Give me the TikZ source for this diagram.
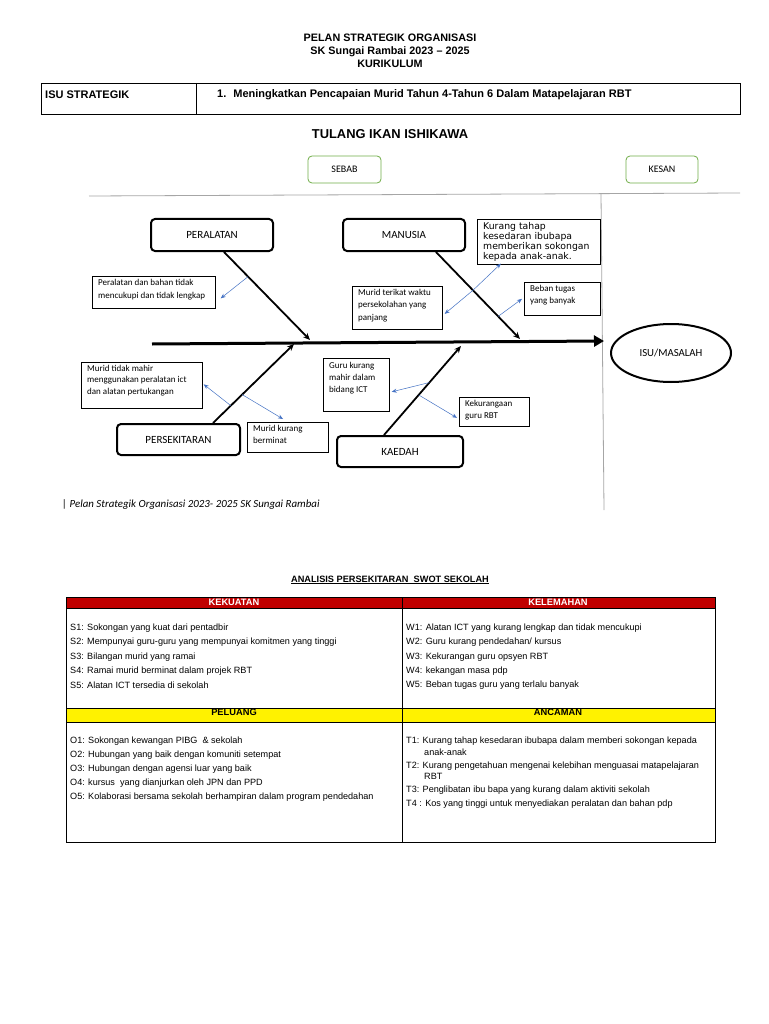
\documentclass[tikz,border=0pt]{standalone}
\usepackage{fontspec}
\setmainfont{Liberation Sans}
\newfontfamily\calfont{Carlito}
\newfontfamily\dvsfont{DejaVu Sans}
\usetikzlibrary{arrows.meta,calc,shapes.geometric}
\definecolor{swotred}{HTML}{C00000}
\definecolor{greenb}{HTML}{70AD47}
\definecolor{bluea}{HTML}{4472C4}
\definecolor{grayl}{HTML}{A6A6A6}
\begin{document}
\begin{tikzpicture}[x=1pt,y=-1pt,
  greenbox/.style={draw=greenb, rounded corners=4pt, line width=0.8pt, font=\calfont\fontsize{10}{12}\selectfont},
  bigbox/.style={draw, rounded corners=4pt, line width=2pt, font=\calfont\fontsize{11}{12}\selectfont},
  note/.style={draw, line width=0.7pt, anchor=north west, inner sep=0pt},
  notetxt/.style={anchor=north west, inner sep=0pt, align=left, font=\calfont\fontsize{9}{12.5}\selectfont},
  bone/.style={line width=1.8pt, -{Stealth[length=7pt,width=6pt]}},
  bluearr/.style={draw=bluea, line width=0.5pt, -{Stealth[length=5pt,width=4pt]}},
  swtxt/.style={anchor=west, inner sep=0pt, font=\fontsize{9.1}{11}\selectfont},
  swhead/.style={inner sep=0pt, font=\bfseries\fontsize{9.3}{10}\selectfont}
]
\useasboundingbox[fill=white] (0,0) rectangle (768,1024);

% ---------- titles ----------
\node[align=center, font=\bfseries\fontsize{10.8}{13}\selectfont] (title) at (390,51)
  {PELAN STRATEGIK ORGANISASI\\SK Sungai Rambai 2023 -- 2025\\KURIKULUM};

\node[draw, line width=0.8pt, anchor=north west, inner sep=0pt, minimum width=699pt, minimum height=31pt] (isutab) at (41,83) {};
\draw[line width=0.8pt] (196,83) -- (196,114);
\node[anchor=west, inner sep=0pt, font=\bfseries\fontsize{11}{13}\selectfont] (isulbl) at (45,95) {ISU STRATEGIK};
\node[anchor=west, inner sep=0pt, font=\bfseries\fontsize{11}{13}\selectfont] (isutxt) at (217,95)
  {1.\hspace{7pt}Meningkatkan Pencapaian Murid Tahun 4-Tahun 6 Dalam Matapelajaran RBT};

\node[font=\bfseries\fontsize{12.9}{15}\selectfont] (ikan) at (390,134) {TULANG IKAN ISHIKAWA};

% ---------- sebab / kesan ----------
\node[greenbox, minimum width=73pt, minimum height=27pt] (sebab) at (344.5,169.5) {SEBAB};
\node[greenbox, minimum width=72pt, minimum height=27pt] (kesan) at (662,169.5) {KESAN};

\draw[grayl, line width=0.8pt] (89,196) -- (740,193);
\draw[grayl, line width=0.8pt] (601,194) -- (604,510);

% ---------- main boxes ----------
\node[bigbox, minimum width=122pt, minimum height=32pt] (peralatan) at (212,235) {PERALATAN};
\node[bigbox, minimum width=122pt, minimum height=32pt] (manusia) at (404,235) {MANUSIA};
\node[bigbox, minimum width=123pt, minimum height=31pt] (persekitaran) at (178.5,439.5) {PERSEKITARAN};
\node[bigbox, minimum width=126pt, minimum height=31pt] (kaedah) at (400,451.5) {KAEDAH};

\node[ellipse, draw, line width=2pt, minimum width=120pt, minimum height=58pt,
  font=\calfont\fontsize{10.8}{12}\selectfont] (isu) at (671,353) {ISU/MASALAH};

% ---------- spine ----------
\coordinate (sp0) at (152,344);
\coordinate (sp1) at (604,341);
\draw[line width=3pt, -{Triangle[length=10pt,width=11pt]}] (sp0) -- (sp1);

% ---------- bones ----------
\coordinate (pb0) at ($(peralatan.south)+(12,0)$);
\coordinate (pb1) at (310,340);
\coordinate (mb0) at ($(manusia.south)+(32,0)$);
\coordinate (mb1) at (520,339);
\coordinate (sb0) at ($(persekitaran.north)+(34.5,0)$);
\coordinate (sb1) at (294,344);
\coordinate (kb0) at ($(kaedah.north)+(-16,0)$);
\coordinate (kb1) at (461,346);
\draw[bone] (pb0) -- (pb1);
\draw[bone] (mb0) -- (mb1);
\draw[bone] (sb0) -- (sb1);
\draw[bone] (kb0) -- (kb1);

% ---------- notes ----------
\node[note, minimum width=123pt, minimum height=32pt] (perNote) at (92,276) {};
\node[notetxt, font=\calfont\fontsize{9}{13}\selectfont] (perTxt) at ($(perNote.north west)+(6,3)$) {Peralatan dan bahan tidak\\mencukupi dan tidak lengkap};

\node[note, minimum width=123pt, minimum height=45pt] (kurNote) at (477,219) {};
\node[anchor=north west, inner sep=0pt, align=left, font=\dvsfont\fontsize{9.3}{10.2}\selectfont] (kurTxt)
  at ($(kurNote.north west)+(6,3)$) {Kurang tahap\\kesedaran ibubapa\\memberikan sokongan\\kepada anak-anak.};

\node[note, minimum width=90pt, minimum height=43pt] (terNote) at (352,286) {};
\node[notetxt] (terTxt) at ($(terNote.north west)+(6,3)$) {Murid terikat waktu\\persekolahan yang\\panjang};

\node[note, minimum width=76pt, minimum height=33pt] (bebNote) at (524,282) {};
\node[notetxt] (bebTxt) at ($(bebNote.north west)+(6,3)$) {Beban tugas\\yang banyak};

\node[note, minimum width=121pt, minimum height=46pt] (ictNote) at (81,362) {};
\node[notetxt, font=\calfont\fontsize{9}{11.5}\selectfont] (ictTxt) at ($(ictNote.north west)+(6,3)$) {Murid tidak mahir\\menggunakan peralatan ict\\dan alatan pertukangan};

\node[note, minimum width=81pt, minimum height=30pt] (minNote) at (247,422) {};
\node[notetxt, font=\calfont\fontsize{9}{12}\selectfont] (minTxt) at ($(minNote.north west)+(6,3)$) {Murid kurang\\berminat};

\node[note, minimum width=66pt, minimum height=53pt] (guruNote) at (323,358) {};
\node[notetxt, font=\calfont\fontsize{9}{12}\selectfont] (guruTxt) at ($(guruNote.north west)+(6,4)$) {Guru kurang\\mahir dalam\\bidang ICT};

\node[note, minimum width=70pt, minimum height=29pt] (kekNote) at (459,397) {};
\node[notetxt, font=\calfont\fontsize{9}{12}\selectfont] (kekTxt) at ($(kekNote.north west)+(6,3)$) {Kekurangaan\\guru RBT};

% ---------- blue arrows ----------
\coordinate (pbA) at ($(pb0)!0.28!(pb1)$);
\draw[bluearr] (pbA) -- ($(perNote.east)+(5,6)$);
\coordinate (mbA) at ($(mb0)!0.44!(mb1)$);
\draw[bluearr] (mbA) -- ($(terNote.east)+(2,6)$);
\draw[bluearr] (mbA) -- ($(kurNote.south)+(-38,-1)$);
\coordinate (mbB) at ($(mb0)!0.74!(mb1)$);
\draw[bluearr] (mbB) -- ($(bebNote.west)+(-2,0)$);
\coordinate (sbA) at ($(sb0)!0.22!(sb1)$);
\draw[bluearr] (sbA) -- ($(ictNote.east)+(1,-1)$);
\coordinate (sbB) at ($(sb0)!0.36!(sb1)$);
\draw[bluearr] (sbB) -- ($(minNote.north west)+(36,-3)$);
\coordinate (kbA) at ($(kb0)!0.59!(kb1)$);
\draw[bluearr] (kbA) -- ($(guruNote.east)+(2,7)$);
\coordinate (kbB) at ($(kb0)!0.45!(kb1)$);
\draw[bluearr] (kbB) -- ($(kekNote.west)+(-2,6)$);

% ---------- footer ----------
\node[anchor=west, inner sep=0pt, font=\calfont\itshape\fontsize{10.9}{12}\selectfont] (foot) at (62,504)
  {| Pelan Strategik Organisasi 2023- 2025 SK Sungai Rambai};

% ---------- SWOT ----------
\node[font=\bfseries\fontsize{9.2}{11}\selectfont] (swott) at (390,580) {\underline{ANALISIS PERSEKITARAN\ \ SWOT SEKOLAH}};

\fill[swotred] (66,597) rectangle (715,608);
\fill[yellow] (66,708) rectangle (715,722);
\node[draw, line width=0.8pt, anchor=north west, inner sep=0pt, minimum width=649pt, minimum height=245pt] (swot) at (66,597) {};
\draw[line width=0.8pt] (402,597) -- (402,842);
\draw[line width=0.5pt] (66,608) -- (715,608);
\draw[line width=0.5pt] (66,708) -- (715,708);
\draw[line width=0.5pt] (66,722) -- (715,722);

\node[swhead, white] (hS) at (234,602.5) {KEKUATAN};
\node[swhead, white] (hW) at (558,602.5) {KELEMAHAN};
\node[swhead] (hO) at (234,712.5) {PELUANG};
\node[swhead] (hT) at (558,712.5) {ANCAMAN};

\node[swtxt] (s1) at (70,628) {S1: Sokongan yang kuat dari pentadbir};
\node[swtxt] (s2) at (70,642.5) {S2: Mempunyai guru-guru yang mempunyai komitmen yang tinggi};
\node[swtxt] (s3) at (70,657) {S3: Bilangan murid yang ramai};
\node[swtxt] (s4) at (70,671) {S4: Ramai murid berminat dalam projek RBT};
\node[swtxt] (s5) at (70,685) {S5: Alatan ICT tersedia di sekolah};

\node[swtxt] (w1) at (406,628) {W1: Alatan ICT yang kurang lengkap dan tidak mencukupi};
\node[swtxt] (w2) at (406,642.5) {W2: Guru kurang pendedahan/ kursus};
\node[swtxt] (w3) at (406,657) {W3: Kekurangan guru opsyen RBT};
\node[swtxt] (w4) at (406,671) {W4: kekangan masa pdp};
\node[swtxt] (w5) at (406,685) {W5: Beban tugas guru yang terlalu banyak};

\node[swtxt] (o1) at (70,741) {O1: Sokongan kewangan PIBG\ \ \& sekolah};
\node[swtxt] (o2) at (70,755) {O2: Hubungan yang baik dengan komuniti setempat};
\node[swtxt] (o3) at (70,769) {O3: Hubungan dengan agensi luar yang baik};
\node[swtxt] (o4) at (70,783) {O4: kursus\ \ yang dianjurkan oleh JPN dan PPD};
\node[swtxt] (o5) at (70,797) {O5: Kolaborasi bersama sekolah berhampiran dalam program pendedahan};

\node[swtxt] (t1) at (406,741) {T1: Kurang tahap kesedaran ibubapa dalam memberi sokongan kepada};
\node[swtxt] (t1b) at (424,752) {anak-anak};
\node[swtxt] (t2) at (406,766) {T2: Kurang pengetahuan mengenai kelebihan menguasai matapelajaran};
\node[swtxt] (t2b) at (424,776) {RBT};
\node[swtxt] (t3) at (406,790) {T3: Penglibatan ibu bapa yang kurang dalam aktiviti sekolah};
\node[swtxt] (t4) at (406,804) {T4 : Kos yang tinggi untuk menyediakan peralatan dan bahan pdp};
\end{tikzpicture}
\end{document}
